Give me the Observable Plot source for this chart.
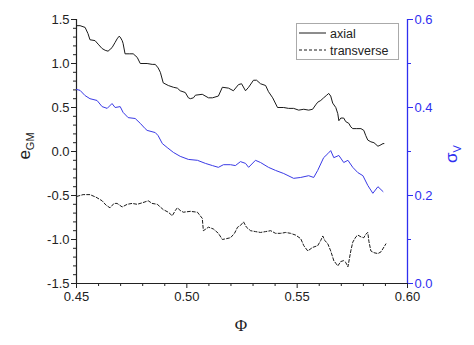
<!DOCTYPE html>
<html>
<head>
<meta charset="utf-8">
<script src="https://cdn.jsdelivr.net/npm/d3@7"></script>
<script src="https://cdn.jsdelivr.net/npm/@observablehq/plot@0.6"></script>
<style>
  body { margin: 0; background: #fff; }
</style>
</head>
<body>
<div id="chart"></div>
<script>
// axial (e_GM, left axis)
const axialPhi = [0.4500,0.4516,0.4539,0.4552,0.4561,0.4584,0.4598,0.4616,0.4630,0.4643,0.4661,0.4675,0.4684,0.4693,0.4698,0.4707,0.4711,0.4720,0.4739,0.4757,0.4775,0.4789,0.4820,0.4843,0.4857,0.4870,0.4880,0.4893,0.4916,0.4939,0.4957,0.4970,0.4993,0.5007,0.5016,0.5030,0.5039,0.5070,0.5098,0.5116,0.5143,0.5161,0.5189,0.5211,0.5234,0.5248,0.5266,0.5280,0.5302,0.5316,0.5334,0.5357,0.5370,0.5389,0.5411,0.5439,0.5461,0.5484,0.5507,0.5530,0.5552,0.5570,0.5584,0.5593,0.5607,0.5620,0.5634,0.5643,0.5652,0.5661,0.5675,0.5684,0.5689,0.5698,0.5711,0.5720,0.5734,0.5743,0.5752,0.5770,0.5789,0.5802,0.5811,0.5820,0.5834,0.5848,0.5857,0.5866,0.5875,0.5889,0.5893];
const axialE = [1.43,1.43,1.41,1.34,1.27,1.26,1.22,1.17,1.15,1.14,1.18,1.24,1.28,1.31,1.30,1.26,1.23,1.11,1.11,1.11,1.07,1.00,1.00,0.99,0.99,0.95,0.90,0.78,0.75,0.73,0.72,0.69,0.67,0.61,0.60,0.61,0.64,0.65,0.61,0.61,0.63,0.73,0.72,0.69,0.76,0.77,0.69,0.73,0.81,0.81,0.77,0.75,0.68,0.61,0.50,0.50,0.49,0.49,0.47,0.48,0.47,0.48,0.53,0.56,0.58,0.61,0.64,0.66,0.63,0.55,0.50,0.43,0.35,0.38,0.38,0.34,0.32,0.28,0.26,0.26,0.26,0.24,0.18,0.13,0.11,0.10,0.08,0.06,0.07,0.09,0.09];

// transverse (e_GM, left axis)
const transPhi = [0.4502,0.4530,0.4561,0.4589,0.4616,0.4634,0.4652,0.4670,0.4684,0.4707,0.4730,0.4752,0.4775,0.4802,0.4825,0.4843,0.4866,0.4893,0.4916,0.4934,0.4948,0.4957,0.4970,0.4984,0.5016,0.5048,0.5070,0.5075,0.5098,0.5120,0.5143,0.5161,0.5180,0.5198,0.5216,0.5230,0.5243,0.5257,0.5270,0.5289,0.5311,0.5334,0.5357,0.5380,0.5402,0.5425,0.5448,0.5470,0.5493,0.5516,0.5530,0.5548,0.5570,0.5593,0.5607,0.5616,0.5625,0.5639,0.5652,0.5666,0.5675,0.5684,0.5698,0.5711,0.5720,0.5730,0.5743,0.5752,0.5766,0.5775,0.5789,0.5802,0.5811,0.5820,0.5825,0.5834,0.5848,0.5866,0.5880,0.5902];
const transE = [-0.51,-0.49,-0.49,-0.52,-0.56,-0.61,-0.64,-0.59,-0.59,-0.63,-0.60,-0.59,-0.60,-0.58,-0.56,-0.59,-0.60,-0.66,-0.69,-0.73,-0.67,-0.64,-0.67,-0.69,-0.68,-0.69,-0.76,-0.90,-0.86,-0.88,-0.93,-1.00,-0.99,-0.98,-0.93,-0.86,-0.84,-0.80,-0.86,-0.90,-0.91,-0.92,-0.91,-0.90,-0.93,-0.93,-0.92,-0.93,-0.95,-0.99,-1.07,-1.13,-1.09,-1.07,-1.01,-0.96,-1.01,-1.05,-1.13,-1.24,-1.27,-1.30,-1.25,-1.24,-1.26,-1.31,-1.13,-1.03,-0.97,-0.95,-0.97,-0.98,-0.94,-0.92,-1.02,-1.13,-1.15,-1.16,-1.14,-1.05];

// sigma_V (right axis)
const sigmaPhi = [0.4500,0.4516,0.4539,0.4561,0.4593,0.4616,0.4639,0.4661,0.4675,0.4698,0.4711,0.4734,0.4766,0.4789,0.4811,0.4820,0.4857,0.4870,0.4889,0.4911,0.4939,0.4970,0.5007,0.5048,0.5084,0.5116,0.5143,0.5166,0.5198,0.5220,0.5243,0.5266,0.5280,0.5311,0.5334,0.5370,0.5402,0.5439,0.5484,0.5516,0.5552,0.5575,0.5593,0.5620,0.5639,0.5652,0.5666,0.5689,0.5711,0.5730,0.5752,0.5775,0.5798,0.5820,0.5843,0.5866,0.5889];
const sigmaV = [0.441,0.439,0.427,0.420,0.416,0.402,0.398,0.409,0.400,0.402,0.389,0.377,0.375,0.364,0.352,0.348,0.343,0.336,0.318,0.309,0.298,0.289,0.282,0.280,0.273,0.268,0.264,0.270,0.270,0.268,0.277,0.273,0.264,0.280,0.275,0.264,0.257,0.250,0.239,0.241,0.245,0.241,0.257,0.286,0.295,0.302,0.286,0.291,0.275,0.280,0.264,0.252,0.245,0.223,0.205,0.220,0.209];

// ticks
const xTicks = [0.45, 0.50, 0.55, 0.60];
const xMinor = [0.46,0.47,0.48,0.49,0.51,0.52,0.53,0.54,0.56,0.57,0.58,0.59];
const yTicks = [-1.5,-1.0,-0.5,0.0,0.5,1.0,1.5];
const yMinor = [-1.4,-1.3,-1.2,-1.1,-0.9,-0.8,-0.7,-0.6,-0.4,-0.3,-0.2,-0.1,0.1,0.2,0.3,0.4,0.6,0.7,0.8,0.9,1.1,1.2,1.3,1.4];
const sTicks = [0.0, 0.2, 0.4, 0.6];
const sMinor = [0.1, 0.3, 0.5];

const yDomain = [-1.5, 1.5];
const sDomain = [0.0, 0.6];
// map sigma onto left-axis units
const s2y = s => yDomain[0] + (s - sDomain[0]) * (yDomain[1] - yDomain[0]) / (sDomain[1] - sDomain[0]);
const y2s = y => sDomain[0] + (y - yDomain[0]) * (sDomain[1] - sDomain[0]) / (yDomain[1] - yDomain[0]);

const axial = axialPhi.map((p, i) => ({phi: p, v: axialE[i]}));
const trans = transPhi.map((p, i) => ({phi: p, v: transE[i]}));
const sigma = sigmaPhi.map((p, i) => ({phi: p, v: s2y(sigmaV[i])}));

const BLUE = "#2f2ff0";
const AX = "#222";
const FONT = "'Liberation Sans', Arial, sans-serif";

const plot = Plot.plot({
  width: 474,
  height: 345,
  marginLeft: 76,
  marginRight: 67,
  marginTop: 19,
  marginBottom: 62,
  x: {domain: [0.45, 0.60]},
  y: {domain: yDomain},
  style: {fontFamily: FONT, fontSize: "13px", background: "white", color: AX},
  marks: [
    // left axis
    Plot.axisY(yTicks, {anchor: "left", tickSize: 5, tickPadding: 2, tickFormat: d => d.toFixed(1), label: null, fontSize: 13, stroke: AX}),
    Plot.axisY(yMinor, {anchor: "left", tickSize: 3, tickFormat: () => "", label: null, stroke: AX}),
    // bottom axis
    Plot.axisX(xTicks, {anchor: "bottom", tickSize: 5, tickPadding: 3, tickFormat: d => d.toFixed(2), label: null, fontSize: 13, stroke: AX}),
    Plot.axisX(xMinor, {anchor: "bottom", tickSize: 3, tickFormat: () => "", label: null, stroke: AX}),
    // right axis (sigma_V)
    Plot.axisY(sTicks.map(s2y), {anchor: "right", tickSize: 5, tickPadding: 2, tickFormat: d => y2s(d).toFixed(1), label: null, color: BLUE, fontSize: 13}),
    Plot.axisY(sMinor.map(s2y), {anchor: "right", tickSize: 3, tickFormat: () => "", label: null, color: BLUE}),
    Plot.ruleX([0.45], {stroke: AX, strokeWidth: 1.2}),
    Plot.ruleY([-1.5], {stroke: AX, strokeWidth: 1.2}),
    Plot.ruleX([0.60], {stroke: BLUE, strokeWidth: 1.3}),
    // data
    Plot.line(axial, {x: "phi", y: "v", stroke: "#1a1a1a", strokeWidth: 1}),
    Plot.line(sigma, {x: "phi", y: "v", stroke: "#3a3ae6", strokeWidth: 1}),
    Plot.line(trans, {x: "phi", y: "v", stroke: "#1a1a1a", strokeWidth: 1, strokeDasharray: "3,2"})
  ]
});

document.getElementById("chart").appendChild(plot);

const svg = d3.select(plot);
// axis titles
svg.append("text")
  .attr("x", 241).attr("y", 331)
  .attr("text-anchor", "middle")
  .attr("font-family", "'Liberation Serif', 'DejaVu Serif', serif")
  .attr("font-size", 17)
  .attr("fill", AX)
  .text("Φ");

const eLab = svg.append("text")
  .attr("transform", "translate(30,146) rotate(-90)")
  .attr("text-anchor", "middle")
  .attr("font-family", FONT)
  .attr("font-size", 17)
  .attr("fill", AX);
eLab.append("tspan").text("e");
eLab.append("tspan").attr("font-size", 11).attr("dy", 4).text("GM");

const sLab = svg.append("text")
  .attr("transform", "translate(457,154) rotate(-90)")
  .attr("text-anchor", "middle")
  .attr("font-family", FONT)
  .attr("font-size", 17)
  .attr("fill", BLUE);
sLab.append("tspan").text("σ");
sLab.append("tspan").attr("font-size", 11).attr("dy", 4).text("V");

// legend
const lg = svg.append("g").attr("text-anchor", "start");
lg.append("rect").attr("x", 296.5).attr("y", 23.5).attr("width", 102).attr("height", 36)
  .attr("fill", "white").attr("stroke", "#aaa");
lg.append("line").attr("x1", 299).attr("x2", 326).attr("y1", 33).attr("y2", 33)
  .attr("stroke", "#1a1a1a");
lg.append("line").attr("x1", 299).attr("x2", 326).attr("y1", 50).attr("y2", 50)
  .attr("stroke", "#1a1a1a").attr("stroke-dasharray", "3,2");
lg.append("text").attr("x", 330).attr("y", 37.5).attr("text-anchor", "start").attr("font-family", FONT)
  .attr("font-size", 12.5).attr("fill", AX).text("axial");
lg.append("text").attr("x", 330).attr("y", 54.5).attr("text-anchor", "start").attr("font-family", FONT)
  .attr("font-size", 12.5).attr("fill", AX).text("transverse");
</script>
</body>
</html>
